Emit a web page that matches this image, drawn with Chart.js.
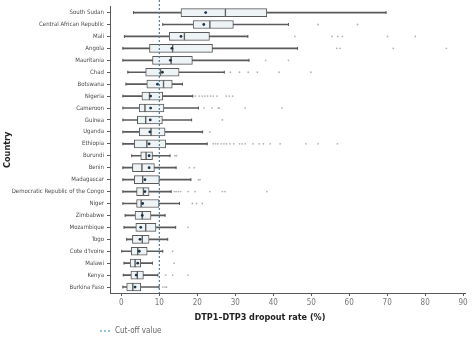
<!DOCTYPE html>
<html>
<head>
<meta charset="utf-8">
<script src="https://cdn.jsdelivr.net/npm/chart.js@4.4.1/dist/chart.umd.min.js"></script>
<style>
  html, body { margin: 0; padding: 0; background: #fff; }
  #wrap { position: relative; width: 474px; height: 338px; }
</style>
</head>
<body>
<div id="wrap"><canvas id="boxChart" width="474" height="338"></canvas></div>
<script>
// DTP1-DTP3 dropout rate by country (box plot)
var countries = ["South Sudan", "Central African Republic", "Mali", "Angola", "Mauritania", "Chad",
  "Botswana", "Nigeria", "Cameroon", "Guinea", "Uganda", "Ethiopia", "Burundi", "Benin", "Madagascar",
  "Democratic Republic of the Congo", "Niger", "Zimbabwe", "Mozambique", "Togo", "Cote d'Ivoire",
  "Malawi", "Kenya", "Burkina Faso"];

var whiskerLow  = [3.2, 10.9, 0.8, 0.4, 0.4, 1.7, 1.2, 0.4, 0.4, 0.4, 0.4, 0.4, 2.7, 0.4, 0.4, 0.4, 0.4, 1.0, 0.7, 1.4, 0.1, 0.7, 0.5, 0.4];
var q1          = [15.7, 18.9, 12.6, 7.4, 8.2, 6.4, 6.7, 5.4, 4.7, 4.2, 4.7, 3.4, 5.1, 2.9, 3.4, 4.0, 4.0, 3.6, 3.8, 2.9, 2.6, 2.3, 2.5, 1.4];
var medians     = [27.4, 23.3, 16.6, 13.5, 13.1, 10.3, 11.1, 7.4, 6.2, 6.4, 7.8, 6.7, 6.5, 5.4, 5.6, 5.8, 5.2, 5.5, 6.4, 5.5, 4.3, 3.6, 4.2, 3.0];
var q3          = [38.3, 29.5, 23.2, 24.0, 18.7, 15.2, 13.4, 10.9, 11.2, 10.8, 11.5, 11.7, 8.2, 8.7, 10.0, 7.3, 9.9, 7.8, 9.1, 7.3, 6.8, 5.1, 5.8, 5.1];
var whiskerHigh = [69.7, 44.0, 33.3, 46.4, 33.6, 27.1, 16.1, 18.8, 20.3, 18.5, 21.4, 22.6, 12.8, 14.4, 18.3, 13.1, 15.3, 11.5, 14.3, 12.2, 10.9, 8.2, 9.6, 9.9];
var means       = [22.2, 21.7, 15.7, 13.3, 12.9, 10.8, 9.5, 7.7, 7.7, 7.6, 7.5, 7.3, 7.3, 7.3, 6.2, 6.2, 5.6, 5.5, 5.1, 4.9, 4.7, 4.3, 3.9, 3.6];
var outliers = [
  [],
  [51.8, 62.2],
  [45.7, 55.5, 57.0, 58.2, 70.1, 77.4],
  [56.7, 57.6, 71.6, 85.6],
  [38.0, 44.0],
  [28.7, 31.1, 33.4, 35.8, 41.5, 49.9],
  [],
  [19.5, 20.5, 21.3, 22.0, 22.7, 23.5, 24.2, 25.2, 27.6, 28.4, 29.3],
  [21.8, 23.9, 25.5, 25.8, 32.6, 42.3],
  [26.6],
  [23.3],
  [24.2, 24.8, 25.4, 26.3, 27.0, 27.7, 28.6, 29.6, 31.1, 31.8, 32.6, 34.7, 36.3, 37.4, 39.2, 41.8, 48.6, 51.8, 56.9],
  [14.1, 14.5],
  [17.9, 19.2],
  [20.3, 20.7],
  [13.9, 14.4, 15.0, 15.6, 17.6, 19.4, 23.3, 26.6, 27.3, 38.3],
  [18.7, 19.8, 21.3],
  [],
  [17.5],
  [],
  [13.5],
  [13.9],
  [11.7, 13.5, 17.5],
  [10.9, 11.5, 11.9]
];
var cutOff = 10;
var xTicks = [0, 10, 20, 30, 40, 50, 60, 70, 80, 90];

var narrow = "'Liberation Sans Narrow', 'DejaVu Sans Condensed', sans-serif";
var boxLine = "#5a5a5a";
var boxFill = "#eef3f6";

var outlierPts = [];
outliers.forEach(function (list, i) {
  list.forEach(function (v) { outlierPts.push({ x: v, y: countries[i] }); });
});
var capPts = [];
countries.forEach(function (c, i) {
  capPts.push({ x: whiskerLow[i], y: c });
  capPts.push({ x: whiskerHigh[i], y: c });
});

// cut-off line, x title and legend
var extras = {
  id: 'extras',
  afterDatasetsDraw: function (chart) {
    var ctx = chart.ctx, x = chart.scales.x, area = chart.chartArea;
    var px = x.getPixelForValue(cutOff);
    ctx.save();
    ctx.strokeStyle = "#2b8cbf";
    ctx.lineWidth = 1.2;
    ctx.setLineDash([2, 2]);
    ctx.beginPath();
    ctx.moveTo(px, 0);
    ctx.lineTo(px, area.bottom);
    ctx.stroke();
    ctx.restore();
  },
  afterDraw: function (chart) {
    var ctx = chart.ctx;
    ctx.save();
    ctx.fillStyle = "#222";
    ctx.font = "bold 9px " + narrow;
    ctx.textAlign = "center";
    ctx.textBaseline = "middle";
    ctx.fillText("DTP1\u2013DTP3 dropout rate (%)", 260, 318);
    // legend
    ctx.strokeStyle = "#2b8cbf";
    ctx.lineWidth = 1.2;
    ctx.setLineDash([2, 2]);
    ctx.beginPath();
    ctx.moveTo(100, 331);
    ctx.lineTo(112, 331);
    ctx.stroke();
    ctx.fillStyle = "#666";
    ctx.font = "8px " + narrow;
    ctx.textAlign = "left";
    ctx.fillText("Cut-off value", 115, 331);
    ctx.restore();
  }
};

new Chart(document.getElementById("boxChart"), {
  type: 'bar',
  data: {
    labels: countries,
    datasets: [
      {
        type: 'scatter',
        label: 'Mean',
        data: countries.map(function (c, i) { return { x: means[i], y: c }; }),
        pointStyle: 'circle',
        pointRadius: 1.4,
        backgroundColor: "#1c3347",
        borderWidth: 0,
        order: 0
      },
      {
        label: 'Q1-median',
        data: countries.map(function (c, i) { return [q1[i], medians[i]]; }),
        backgroundColor: boxFill,
        borderColor: boxLine,
        borderWidth: 1,
        borderSkipped: false,
        barThickness: 8,
        grouped: false,
        order: 1
      },
      {
        label: 'median-Q3',
        data: countries.map(function (c, i) { return [medians[i], q3[i]]; }),
        backgroundColor: boxFill,
        borderColor: boxLine,
        borderWidth: 1,
        borderSkipped: false,
        barThickness: 8,
        grouped: false,
        order: 1
      },
      {
        label: 'Whisker',
        data: countries.map(function (c, i) { return [whiskerLow[i], whiskerHigh[i]]; }),
        backgroundColor: boxLine,
        borderWidth: 0,
        barThickness: 1,
        grouped: false,
        order: 2
      },
      {
        type: 'scatter',
        label: 'Caps',
        data: capPts,
        pointStyle: 'line',
        rotation: 90,
        pointRadius: 1.5,
        borderColor: boxLine,
        borderWidth: 1,
        order: 2
      },
      {
        type: 'scatter',
        label: 'Outliers',
        data: outlierPts,
        pointRadius: 0.9,
        backgroundColor: "#b3b3b3",
        borderWidth: 0,
        order: 3
      }
    ]
  },
  options: {
    indexAxis: 'y',
    responsive: false,
    animation: false,
    layout: { padding: { top: 6, right: 9, left: 0, bottom: 0 } },
    plugins: {
      legend: { display: false },
      tooltip: { enabled: false },
      title: { display: false }
    },
    scales: {
      x: {
        type: 'linear',
        min: -3,
        max: 90.5,
        afterBuildTicks: function (scale) {
          scale.ticks = xTicks.map(function (v) { return { value: v }; });
        },
        afterFit: function (scale) { scale.height = 45; },
        grid: { drawOnChartArea: false, tickLength: 3, color: boxLine },
        border: { color: boxLine, width: 1 },
        ticks: { color: "#777", font: { family: narrow, size: 8 }, padding: 2, maxRotation: 0 }
      },
      y: {
        type: 'category',
        labels: countries,
        afterFit: function (scale) { scale.width = 110; },
        grid: { drawOnChartArea: false, tickLength: 3, color: boxLine, offset: false },
        border: { color: boxLine, width: 1 },
        ticks: { color: "#4a4a4a", font: { family: narrow, size: 6 }, padding: 3, autoSkip: false },
        title: {
          display: true,
          text: 'Country',
          color: "#222",
          font: { family: narrow, size: 9, weight: 'bold' },
          padding: { top: 2, bottom: 2 }
        }
      }
    }
  },
  plugins: [extras]
});
</script>
</body>
</html>
